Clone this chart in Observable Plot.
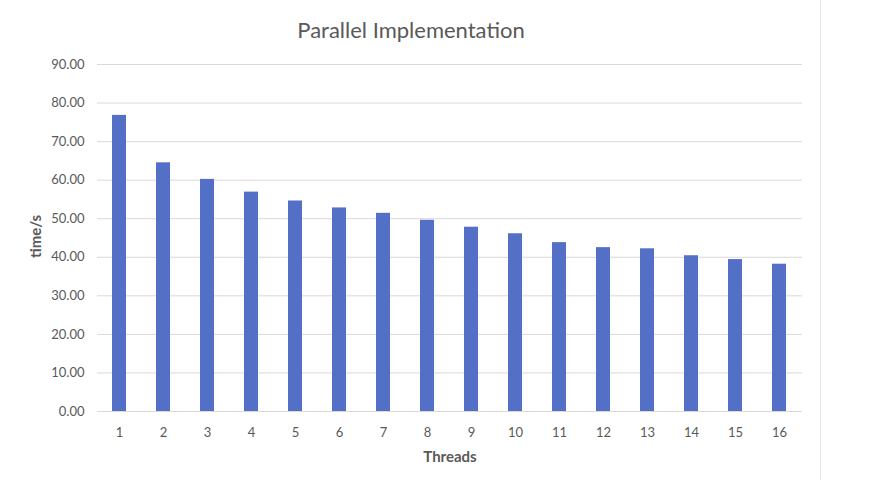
<!DOCTYPE html>
<html><head><meta charset="utf-8">
<script src="https://cdn.jsdelivr.net/npm/d3@7"></script>
<script src="https://cdn.jsdelivr.net/npm/@observablehq/plot@0.6"></script>
<style>body{margin:0;background:#fff;font-family:Lato,"Open Sans",sans-serif;} #chart{position:relative;width:870px;height:480px;} .border{position:absolute;left:820px;top:0;width:1px;height:480px;background:#e6e6e6;}</style>
</head><body><div id="chart"><div class="border"></div></div>
<script>
const title = "Parallel Implementation";
const xLabel = "Threads";
const yLabel = "time/s";
const threads = ["1","2","3","4","5","6","7","8","9","10","11","12","13","14","15","16"];
const times = [76.8,64.5,60.2,56.9,54.6,52.8,51.4,49.6,47.8,46.1,43.8,42.5,42.2,40.4,39.4,38.2];
const yTicks = [0,10,20,30,40,50,60,70,80,90];
const data = threads.map((t,i)=>({t, v: times[i]}));
const grey = "#595959";
const chart = Plot.plot({
  width: 870, height: 480,
  marginTop: 64, marginBottom: 69, marginLeft: 97, marginRight: 68,
  style: {fontFamily: "Lato, 'Open Sans', sans-serif", fontSize: "13px", color: grey, background: "transparent"},
  x: {type: "band", domain: threads, paddingInner: 0.68, paddingOuter: 0.34, label: null},
  y: {domain: [0, 90], label: null},
  marks: [
    Plot.gridY(yTicks, {stroke: "#d9d9d9", strokeOpacity: 1}),
    Plot.axisY(yTicks, {tickSize: 0, tickPadding: 13, tickFormat: d => d.toFixed(2), fill: grey, fontSize: 13}),
    Plot.axisX({tickSize: 0, tickPadding: 16, fill: grey, fontSize: 13}),
    Plot.barY(data, {x: "t", y: "v", fill: "#5470c6"}),
    Plot.ruleY([0], {stroke: "#d9d9d9"}),
    Plot.text([title], {frameAnchor: "top", lineAnchor: "middle", dy: -34, dx: -39, fontSize: 22, fill: grey}),
    Plot.text([xLabel], {frameAnchor: "bottom", lineAnchor: "middle", dy: 46, fontSize: 15, fontWeight: "bold", fill: grey}),
    Plot.text([yLabel], {frameAnchor: "left", lineAnchor: "middle", dx: -61, dy: 20, rotate: -90, fontSize: 15, fontWeight: "bold", fill: grey})
  ]
});
document.getElementById("chart").appendChild(chart);
</script>
</body></html>
